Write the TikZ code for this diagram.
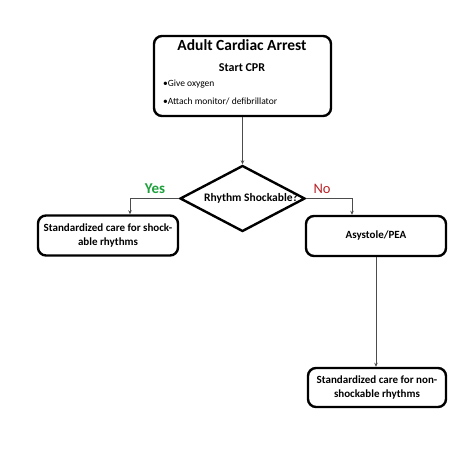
\documentclass[tikz,border=0pt]{standalone}
\usepackage{fontspec}
\setmainfont{Carlito}
\usetikzlibrary{shapes.geometric,arrows.meta}
\definecolor{yesgreen}{RGB}{30,160,60}
\definecolor{nored}{RGB}{185,35,40}
\tikzset{
  stepbox/.style={draw=black, line width=2.4pt, rounded corners=8pt, fill=white,
    font=\fontsize{11}{14}\selectfont\bfseries, align=center},
  decision/.style={diamond, draw=black, line width=2.4pt, inner sep=0pt},
  flow/.style={draw=black!70, line width=0.7pt, -{Stealth[length=4pt,width=3.5pt]}},
}
\begin{document}
\begin{tikzpicture}[x=1pt,y=-1pt]
\useasboundingbox[fill=white] (0,0) rectangle (474,474);
% start box
\node[stepbox, minimum width=177pt, minimum height=80pt] (arrest) at (242.5,76) {};
\node[font=\fontsize{15.5}{17}\selectfont\bfseries] (title) at (242,45) {Adult Cardiac Arrest};
\node[font=\fontsize{12}{14}\selectfont\bfseries] (cpr) at (242,68) {Start CPR};
\node[anchor=west, font=\fontsize{9.5}{11}\selectfont, inner sep=0pt] (oxygen) at (163,84) {\textbullet Give oxygen};
\node[anchor=west, font=\fontsize{9.5}{11}\selectfont, inner sep=0pt] (monitor) at (163,101) {\textbullet Attach monitor/ defibrillator};
% decision
\node[decision, minimum width=125pt, minimum height=66pt] (rhythm) at (242.5,198.5) {};
\node[font=\fontsize{11.5}{13}\selectfont\bfseries] (question) at (251,198) {Rhythm Shockable?};
% outcomes
\node[stepbox, minimum width=140pt, minimum height=40pt] (shock) at (108,235.5) {Standardized care for shock-\\able rhythms};
\node[stepbox, minimum width=140pt, minimum height=40pt] (asystole) at (376,236) {Asystole/PEA};
\node[stepbox, minimum width=138pt, minimum height=39pt] (nonshock) at (377,387.5) {Standardized care for non-\\shockable rhythms};
% connectors
\draw[flow] (arrest.south) -- (rhythm.north);
\draw[flow] (rhythm.west) -| ([xshift=22pt]shock.north);
\draw[flow] (rhythm.east) -| ([xshift=-24pt]asystole.north);
\draw[flow] (asystole.south) -- (asystole.south |- nonshock.north);
\node[font=\fontsize{15}{17}\selectfont\bfseries, text=yesgreen] (yes) at (155,189) {Yes};
\node[font=\fontsize{14.5}{16}\selectfont, text=nored] (no) at (322,189) {No};
\end{tikzpicture}
\end{document}
